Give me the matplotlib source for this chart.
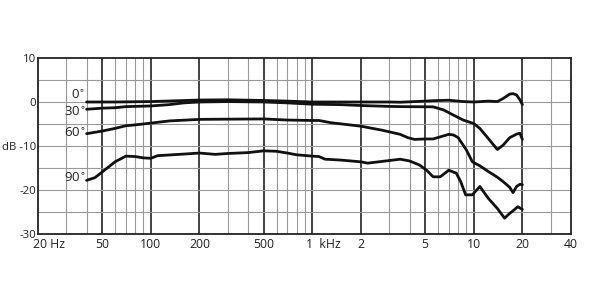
import matplotlib
matplotlib.use("Agg")
import matplotlib.pyplot as plt
import matplotlib.transforms as mtransforms

plt.rcParams['font.family'] = ['Open Sans', 'DejaVu Sans']

# ---- data (frequency in Hz, level in dB) ----
freq_0 = [40, 60, 100, 150, 200, 300, 500, 700, 1000, 1500, 2000, 3000, 3500,
          5000, 5600, 7000, 8600, 10000, 12300, 14000, 15200, 16700, 17500,
          18400, 19300, 20000]
db_0 = [0.0, 0.0, 0.1, 0.3, 0.45, 0.5, 0.35, 0.2, 0.0, 0.0, 0.0, 0.0, -0.05,
        0.2, 0.3, 0.4, 0.1, 0.0, 0.2, 0.1, 0.8, 1.8, 1.9,
        1.6, 0.5, -0.6]

freq_30 = [40, 50, 60, 70, 100, 130, 160, 200, 300, 500, 700, 1000, 1500,
           2000, 3000, 3500, 5600, 6500, 7500, 8600, 10000, 10900, 12300,
           14000, 15200, 16700, 18400, 19300, 20000]
db_30 = [-1.65, -1.4, -1.3, -1.05, -0.9, -0.6, -0.2, 0.0, 0.1, 0.0, -0.2, -0.5, -0.6,
         -0.8, -1.0, -1.05, -1.1, -1.8, -3.0, -4.1, -4.9, -6.0, -8.3,
         -10.8, -9.8, -8.1, -7.3, -7.1, -8.5]

freq_60 = [40, 50, 60, 70, 80, 100, 130, 200, 300, 500, 700, 1000, 1100, 1300,
           2000, 2700, 3500, 3900, 4300, 5000, 5600, 6500, 7000, 7500, 8000,
           9000, 9800, 10900, 12300, 14000, 15200, 16700, 17500, 18400, 19300, 20000]
db_60 = [-7.2, -6.6, -6.0, -5.4, -5.2, -4.8, -4.3, -3.95, -3.9, -3.85, -4.1, -4.2, -4.2, -4.7,
         -5.5, -6.4, -7.35, -8.1, -8.5, -8.4, -8.4, -7.7, -7.35, -7.5, -8.1,
         -10.9, -13.6, -14.5, -15.8, -17.1, -18.1, -19.4, -20.6, -19.2, -18.7, -18.8]

freq_90 = [40, 45, 50, 60, 70, 80, 90, 100, 110, 150, 200, 250, 300, 400, 500,
           600, 700, 800, 1000, 1100, 1200, 1500, 2000, 2200, 3000, 3500, 4000,
           4600, 5100, 5600, 6200, 7000, 7800, 8300, 8900, 9800, 10900, 12300,
           14000, 15500, 16700, 17800, 18700, 20000]
db_90 = [-17.8, -17.2, -15.9, -13.6, -12.3, -12.4, -12.7, -12.8, -12.2, -11.9, -11.6, -11.9, -11.7, -11.5, -11.1,
         -11.2, -11.6, -12.0, -12.3, -12.4, -13.0, -13.2, -13.6, -13.9, -13.3, -13.0, -13.4,
         -14.3, -15.5, -17.0, -17.0, -15.5, -16.2, -18.1, -21.1, -21.1, -19.2, -21.9,
         -24.2, -26.4, -25.3, -24.5, -23.8, -24.4]

curve_labels = ["0", "30", "60", "90"]
label_offsets_pt = [5.0, -2.0, 0.5, 1.5]   # vertical offsets of the angle labels

x_ticks = [20, 50, 100, 200, 500, 1000, 2000, 5000, 10000, 20000, 40000]
x_tick_labels = ["", "50", "100", "200", "500", "", "2", "5", "10", "20", "40"]
major_lines = [50, 100, 200, 500, 1000, 2000, 5000, 10000, 20000]
minor_lines = [30, 40, 60, 70, 80, 90, 300, 400, 600, 700, 800, 900,
               3000, 4000, 6000, 7000, 8000, 9000, 30000]
y_ticks = [10, 0, -10, -20, -30]
y_tick_labels = ["10", "0", "dB -10", "-20", "-30"]
y_grid = [5, -5, -15, -25, 0, -10, -20]

FS = 8.8
TXT = '#222222'

# ---- figure ----
fig = plt.figure(figsize=(6, 3), dpi=100)
ax = fig.add_axes([38/600, 1-234/300, (571-38)/600, (234-58)/300])
ax.set_xscale('log')
ax.set_xlim(20, 40000)
ax.set_ylim(-30, 10)

for v in minor_lines:
    ax.axvline(v, color='#9a9a9a', lw=0.8, zorder=1)
for v in major_lines:
    ax.axvline(v, color='#222222', lw=1.2, zorder=1)
for h in y_grid:
    ax.axhline(h, color='#9a9a9a', lw=0.8, zorder=1)

for s in ax.spines.values():
    s.set_linewidth(1.3)
    s.set_color('#222222')

series = [(freq_0, db_0), (freq_30, db_30), (freq_60, db_60), (freq_90, db_90)]
for f, d in series:
    ax.plot(f, d, color='#111111', lw=2.0, solid_joinstyle='round',
            solid_capstyle='round', zorder=3)

# angle labels left of the curve starts
for (f, d), lab, dy in zip(series, curve_labels, label_offsets_pt):
    ax.annotate(lab + r"$^{\circ}$", xy=(f[0], d[0]), xytext=(-1, dy),
                textcoords='offset points', ha='right', va='center',
                fontsize=9.5, color=TXT)

ax.set_xticks(x_ticks)
ax.set_xticklabels(x_tick_labels)
ax.set_xticks([], minor=True)
ax.set_yticks(y_ticks)
ax.set_yticklabels(y_tick_labels)
ax.tick_params(axis='both', length=0, colors=TXT)
ax.tick_params(axis='x', pad=3, labelsize=FS)
ax.tick_params(axis='y', pad=1.5, labelsize=8.2)

# unit-bearing tick labels, placed like the reference
trans = mtransforms.blended_transform_factory(ax.transData, ax.transAxes)
off = mtransforms.ScaledTranslation(0, -3/72, fig.dpi_scale_trans)
ax.text(20 * 0.93, 0, "20 Hz", transform=trans + off, ha='left', va='top',
        fontsize=FS, color=TXT)
ax.text(1000 * 0.91, 0, "1  kHz", transform=trans + off, ha='left', va='top',
        fontsize=FS, color=TXT)

fig.savefig("out.png", dpi=100, facecolor='white')
